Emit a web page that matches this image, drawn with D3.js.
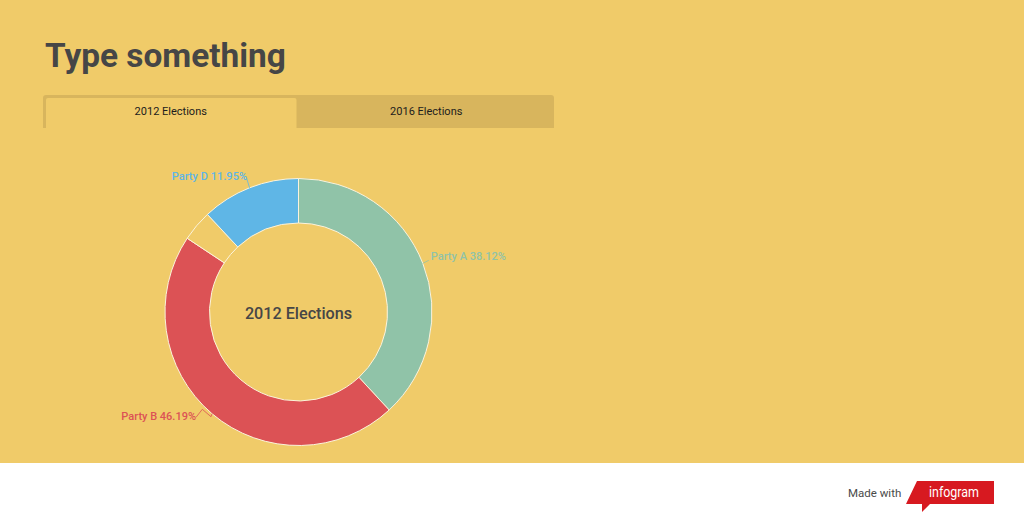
<!DOCTYPE html>
<html>
<head>
<meta charset="utf-8">
<script src="https://cdn.jsdelivr.net/npm/d3@7"></script>
<style>
    html, body { margin: 0; padding: 0; background: #fff; }
    svg { display: block; font-family: Roboto, sans-serif; }
</style>
</head>
<body>
<svg id="chart" width="1024" height="512"></svg>
<script>
// Chart values
const title = "Type something";
const tabs = ["2012 Elections", "2016 Elections"];
const activeTab = 0;
const parties = ["Party A", "Party B", "Party C", "Party D"];
const shares = [38.12, 46.19, 3.74, 11.95];
const partyColors = ["#90c3a8", "#dc5255", "#f0cb69", "#5fb6e6"];
const labelledParties = ["Party A", "Party B", "Party D"];

const svg = d3.select("#chart");

// Background panel and footer
svg.append("rect").attr("width", 1024).attr("height", 463).attr("fill", "#f0cb69");

svg.append("text")
    .attr("x", 45).attr("y", 67)
    .attr("font-size", 33.4).attr("font-weight", 700).attr("fill", "#464646")
    .text(title);

// Tabs
const tabScale = d3.scaleBand().domain(tabs).range([43, 554]).paddingInner(0);
svg.append("path")
    .attr("d", "M43,128V98a3,3 0 0 1 3,-3H551a3,3 0 0 1 3,3V128Z")
    .attr("fill", "#d8b55d");
svg.append("path")
    .attr("d", "M46,128V100a2,2 0 0 1 2,-2H294.5a2,2 0 0 1 2,2V128Z")
    .attr("fill", "#f0cb69");
svg.selectAll("text.tab").data(tabs).enter().append("text")
    .attr("class", "tab")
    .attr("x", d => tabScale(d) + tabScale.bandwidth() / 2)
    .attr("y", 115)
    .attr("text-anchor", "middle")
    .attr("font-size", 11)
    .attr("fill", "#1c1c1c")
    .text(d => d);

// Donut
const cx = 298.5, cy = 312, outerR = 133.5, innerR = 89;
const pie = d3.pie().sort(null).value(d => d.share);
const arc = d3.arc().innerRadius(innerR).outerRadius(outerR);
const rows = parties.map((p, i) => ({ party: p, share: shares[i], color: partyColors[i] }));

const donut = svg.append("g").attr("transform", `translate(${cx},${cy})`);
const slices = pie(rows);
donut.selectAll("path.slice").data(slices).enter().append("path")
    .attr("class", "slice")
    .attr("d", arc)
    .attr("fill", d => d.data.color)
    .attr("stroke", "#fbf3dc")
    .attr("stroke-width", 1);

donut.append("text")
    .attr("y", 6.5)
    .attr("text-anchor", "middle")
    .attr("font-size", 16.2)
    .attr("font-weight", 500)
    .attr("fill", "#464646")
    .text(tabs[activeTab]);

// Labels and leader lines, placed relative to each slice's mid angle
const polar = (a, r) => [r * Math.sin(a), -r * Math.cos(a)];
const leaderStyle = {
    "Party A": { anchor: "start", steps: [[6, -3]], dx: 2, dy: 0, spacing: 0 },
    "Party B": { anchor: "end", steps: [[-1, 3], [-8.7, -7.4], [-6.3, 8]], dx: 0, dy: 3, spacing: 0 },
    "Party D": { anchor: "end", steps: [[-3, -10]], dx: 0.5, dy: 2, spacing: 0.03 }
};

slices.filter(d => labelledParties.includes(d.data.party)).forEach(d => {
    const mid = (d.startAngle + d.endAngle) / 2;
    const style = leaderStyle[d.data.party];
    const start = polar(mid, outerR);
    let pts = [start];
    let x = start[0], y = start[1];
    style.steps.forEach(s => { x += s[0]; y += s[1]; pts.push([x, y]); });

    donut.append("path")
        .attr("d", d3.line()(pts))
        .attr("fill", "none")
        .attr("stroke", d.data.color)
        .attr("stroke-width", 0.8);

    donut.append("text")
        .attr("x", x + style.dx)
        .attr("y", y + style.dy)
        .attr("text-anchor", style.anchor)
        .attr("font-size", 11)
        .attr("font-weight", 500)
        .attr("letter-spacing", style.spacing)
        .attr("fill", d.data.color)
        .text(`${d.data.party} ${d.data.share}%`);
});

// Footer branding
svg.append("text")
    .attr("x", 848).attr("y", 497)
    .attr("font-size", 11.5).attr("fill", "#4a4a4a")
    .text("Made with");
svg.append("path")
    .attr("d", "M917,481H994V504H930L922,512V504H906Z")
    .attr("fill", "#d71920");
svg.append("text")
    .attr("x", 929).attr("y", 497)
    .attr("textLength", 50)
    .attr("lengthAdjust", "spacingAndGlyphs")
    .attr("font-size", 15).attr("fill", "#fff")
    .text("infogram");
</script>
</body>
</html>
